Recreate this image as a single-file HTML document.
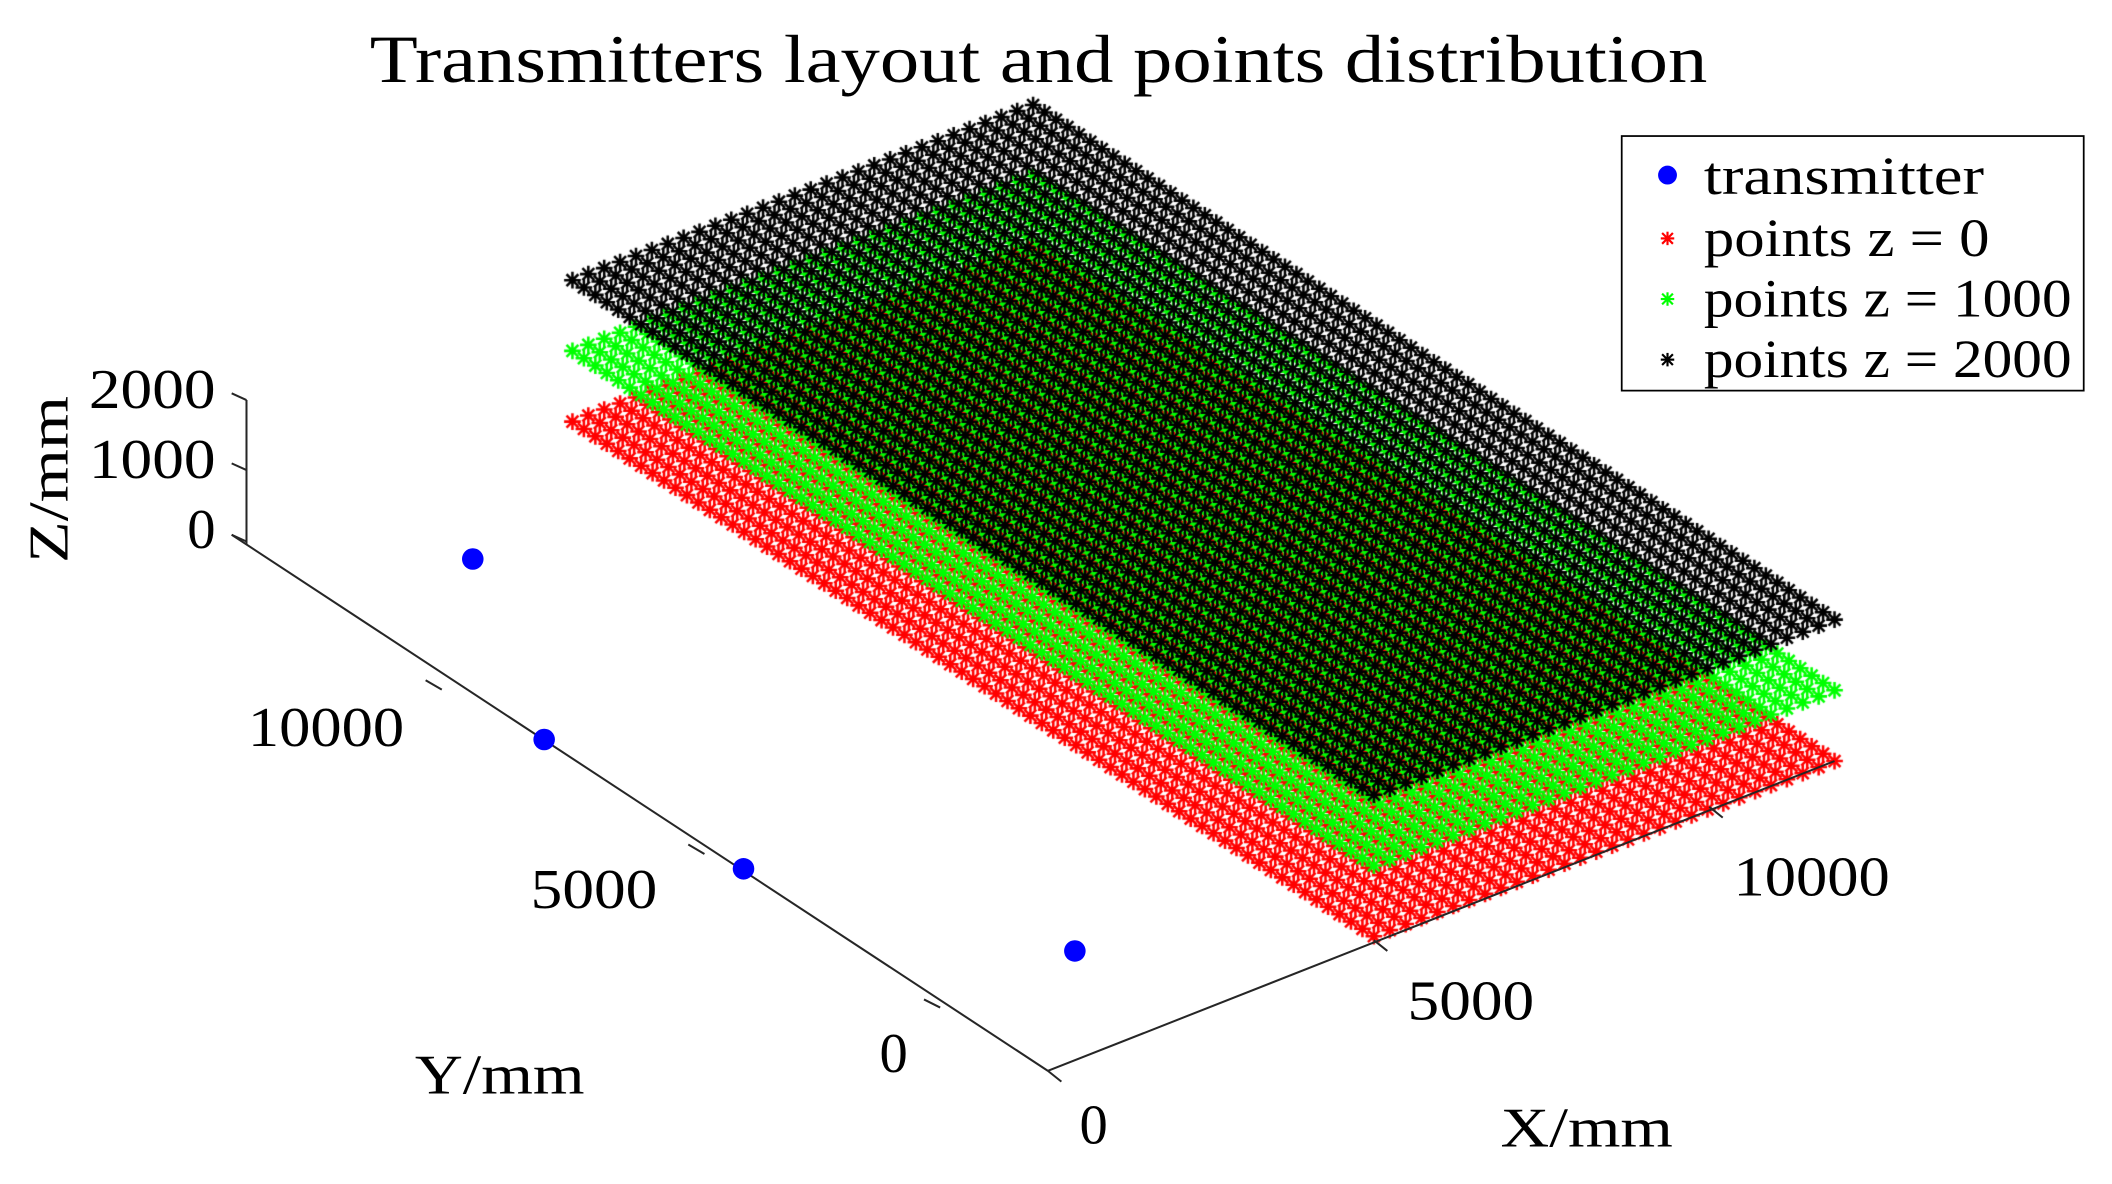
<!DOCTYPE html>
<html><head><meta charset="utf-8"><style>
html,body{margin:0;padding:0;background:#fff;}
#wrap{position:relative;width:2112px;height:1184px;overflow:hidden;}
canvas,svg{position:absolute;left:0;top:0;}
text{font-family:"Liberation Serif",serif;fill:#000;}
</style></head><body><div id="wrap">
<canvas id="c" width="2112" height="1184"></canvas>
<svg width="2112" height="1184" viewBox="0 0 1568 879" preserveAspectRatio="none">
<text x="771" y="61" font-size="50" text-anchor="middle" textLength="993" lengthAdjust="spacingAndGlyphs">Transmitters layout and points distribution</text>
<g stroke="#262626" stroke-width="1.5" fill="none">
<line x1="172" y1="397" x2="778" y2="795"/>
<line x1="778" y1="795" x2="1362" y2="565"/>
<line x1="183" y1="297" x2="183" y2="404"/>
<line x1="172" y1="292" x2="183" y2="297"/>
<line x1="172" y1="344" x2="183" y2="349"/>
<line x1="172" y1="397" x2="183" y2="402"/>
<line x1="316" y1="505" x2="328" y2="512"/>
<line x1="511" y1="627" x2="523" y2="634"/>
<line x1="686" y1="742" x2="698" y2="748"/>
<line x1="1020" y1="698" x2="1030" y2="706"/>
<line x1="1269" y1="599" x2="1279" y2="607"/>
<line x1="778" y1="795" x2="788" y2="803"/>
</g>
<g font-size="42">
<text x="160" y="303" text-anchor="end" textLength="94" lengthAdjust="spacingAndGlyphs">2000</text>
<text x="160" y="355" text-anchor="end" textLength="94" lengthAdjust="spacingAndGlyphs">1000</text>
<text x="160" y="407" text-anchor="end">0</text>
<text x="300" y="554" text-anchor="end" textLength="116" lengthAdjust="spacingAndGlyphs">10000</text>
<text x="488" y="674" text-anchor="end" textLength="94" lengthAdjust="spacingAndGlyphs">5000</text>
<text x="674" y="796" text-anchor="end">0</text>
<text x="1092" y="757" text-anchor="middle" textLength="94" lengthAdjust="spacingAndGlyphs">5000</text>
<text x="1345" y="665" text-anchor="middle" textLength="116" lengthAdjust="spacingAndGlyphs">10000</text>
<text x="812" y="849" text-anchor="middle">0</text>
<text x="371" y="812" text-anchor="middle" textLength="126" lengthAdjust="spacingAndGlyphs">Y/mm</text>
<text x="1178" y="851" text-anchor="middle" textLength="128" lengthAdjust="spacingAndGlyphs">X/mm</text>
<text transform="translate(50,356) rotate(-90)" text-anchor="middle" textLength="124" lengthAdjust="spacingAndGlyphs">Z/mm</text>
</g>
<g fill="#0000ff">
<circle cx="351" cy="415" r="8"/>
<circle cx="404" cy="549" r="8"/>
<circle cx="552" cy="645" r="8"/>
<circle cx="798" cy="706" r="8"/>
</g>
<rect x="1204" y="101" width="343" height="189" fill="#fff" stroke="#000" stroke-width="1.3"/>
<circle cx="1238" cy="130" r="7" fill="#0000ff"/>
<g stroke-width="1.6">
<g stroke="#ff0000"><line x1="1233" y1="177" x2="1243" y2="177"/><line x1="1238" y1="172" x2="1238" y2="182"/><line x1="1234" y1="173" x2="1242" y2="181"/><line x1="1234" y1="181" x2="1242" y2="173"/></g>
<g stroke="#00ff00"><line x1="1233" y1="222" x2="1243" y2="222"/><line x1="1238" y1="217" x2="1238" y2="227"/><line x1="1234" y1="218" x2="1242" y2="226"/><line x1="1234" y1="226" x2="1242" y2="218"/></g>
<g stroke="#000"><line x1="1233" y1="267" x2="1243" y2="267"/><line x1="1238" y1="262" x2="1238" y2="272"/><line x1="1234" y1="263" x2="1242" y2="271"/><line x1="1234" y1="271" x2="1242" y2="263"/></g>
</g>
<g font-size="40">
<text x="1265" y="144" textLength="208" lengthAdjust="spacingAndGlyphs">transmitter</text>
<text x="1265" y="190" textLength="212" lengthAdjust="spacingAndGlyphs">points z = 0</text>
<text x="1265" y="235" textLength="273" lengthAdjust="spacingAndGlyphs">points z = 1000</text>
<text x="1265" y="280" textLength="273" lengthAdjust="spacingAndGlyphs">points z = 2000</text>
</g>
</svg>
</div>
<script>
(function(){
var c=document.getElementById('c').getContext('2d');
c.scale(2112/1568,1184/879);
c.lineWidth=1.9;
var planes=[[0,'#ff0000'],[-52.5,'#00ff00'],[-105,'#000000']];
var Bx=1020,By=695,ux=-595,uy=-382,vx=342,vy=-130,NU=70,NV=29,s=6.2,d=4.4;
planes.forEach(function(p){
 c.strokeStyle=p[1];c.beginPath();
 for(var i=0;i<=NU;i++)for(var j=0;j<=NV;j++){
  var x=Bx+ux*i/NU+vx*j/NV, y=By+p[0]+uy*i/NU+vy*j/NV;
  c.moveTo(x-s,y);c.lineTo(x+s,y);
  c.moveTo(x,y-s);c.lineTo(x,y+s);
  c.moveTo(x-d,y-d);c.lineTo(x+d,y+d);
  c.moveTo(x-d,y+d);c.lineTo(x+d,y-d);
 }
 c.stroke();
});
})();
</script>
</body></html>
